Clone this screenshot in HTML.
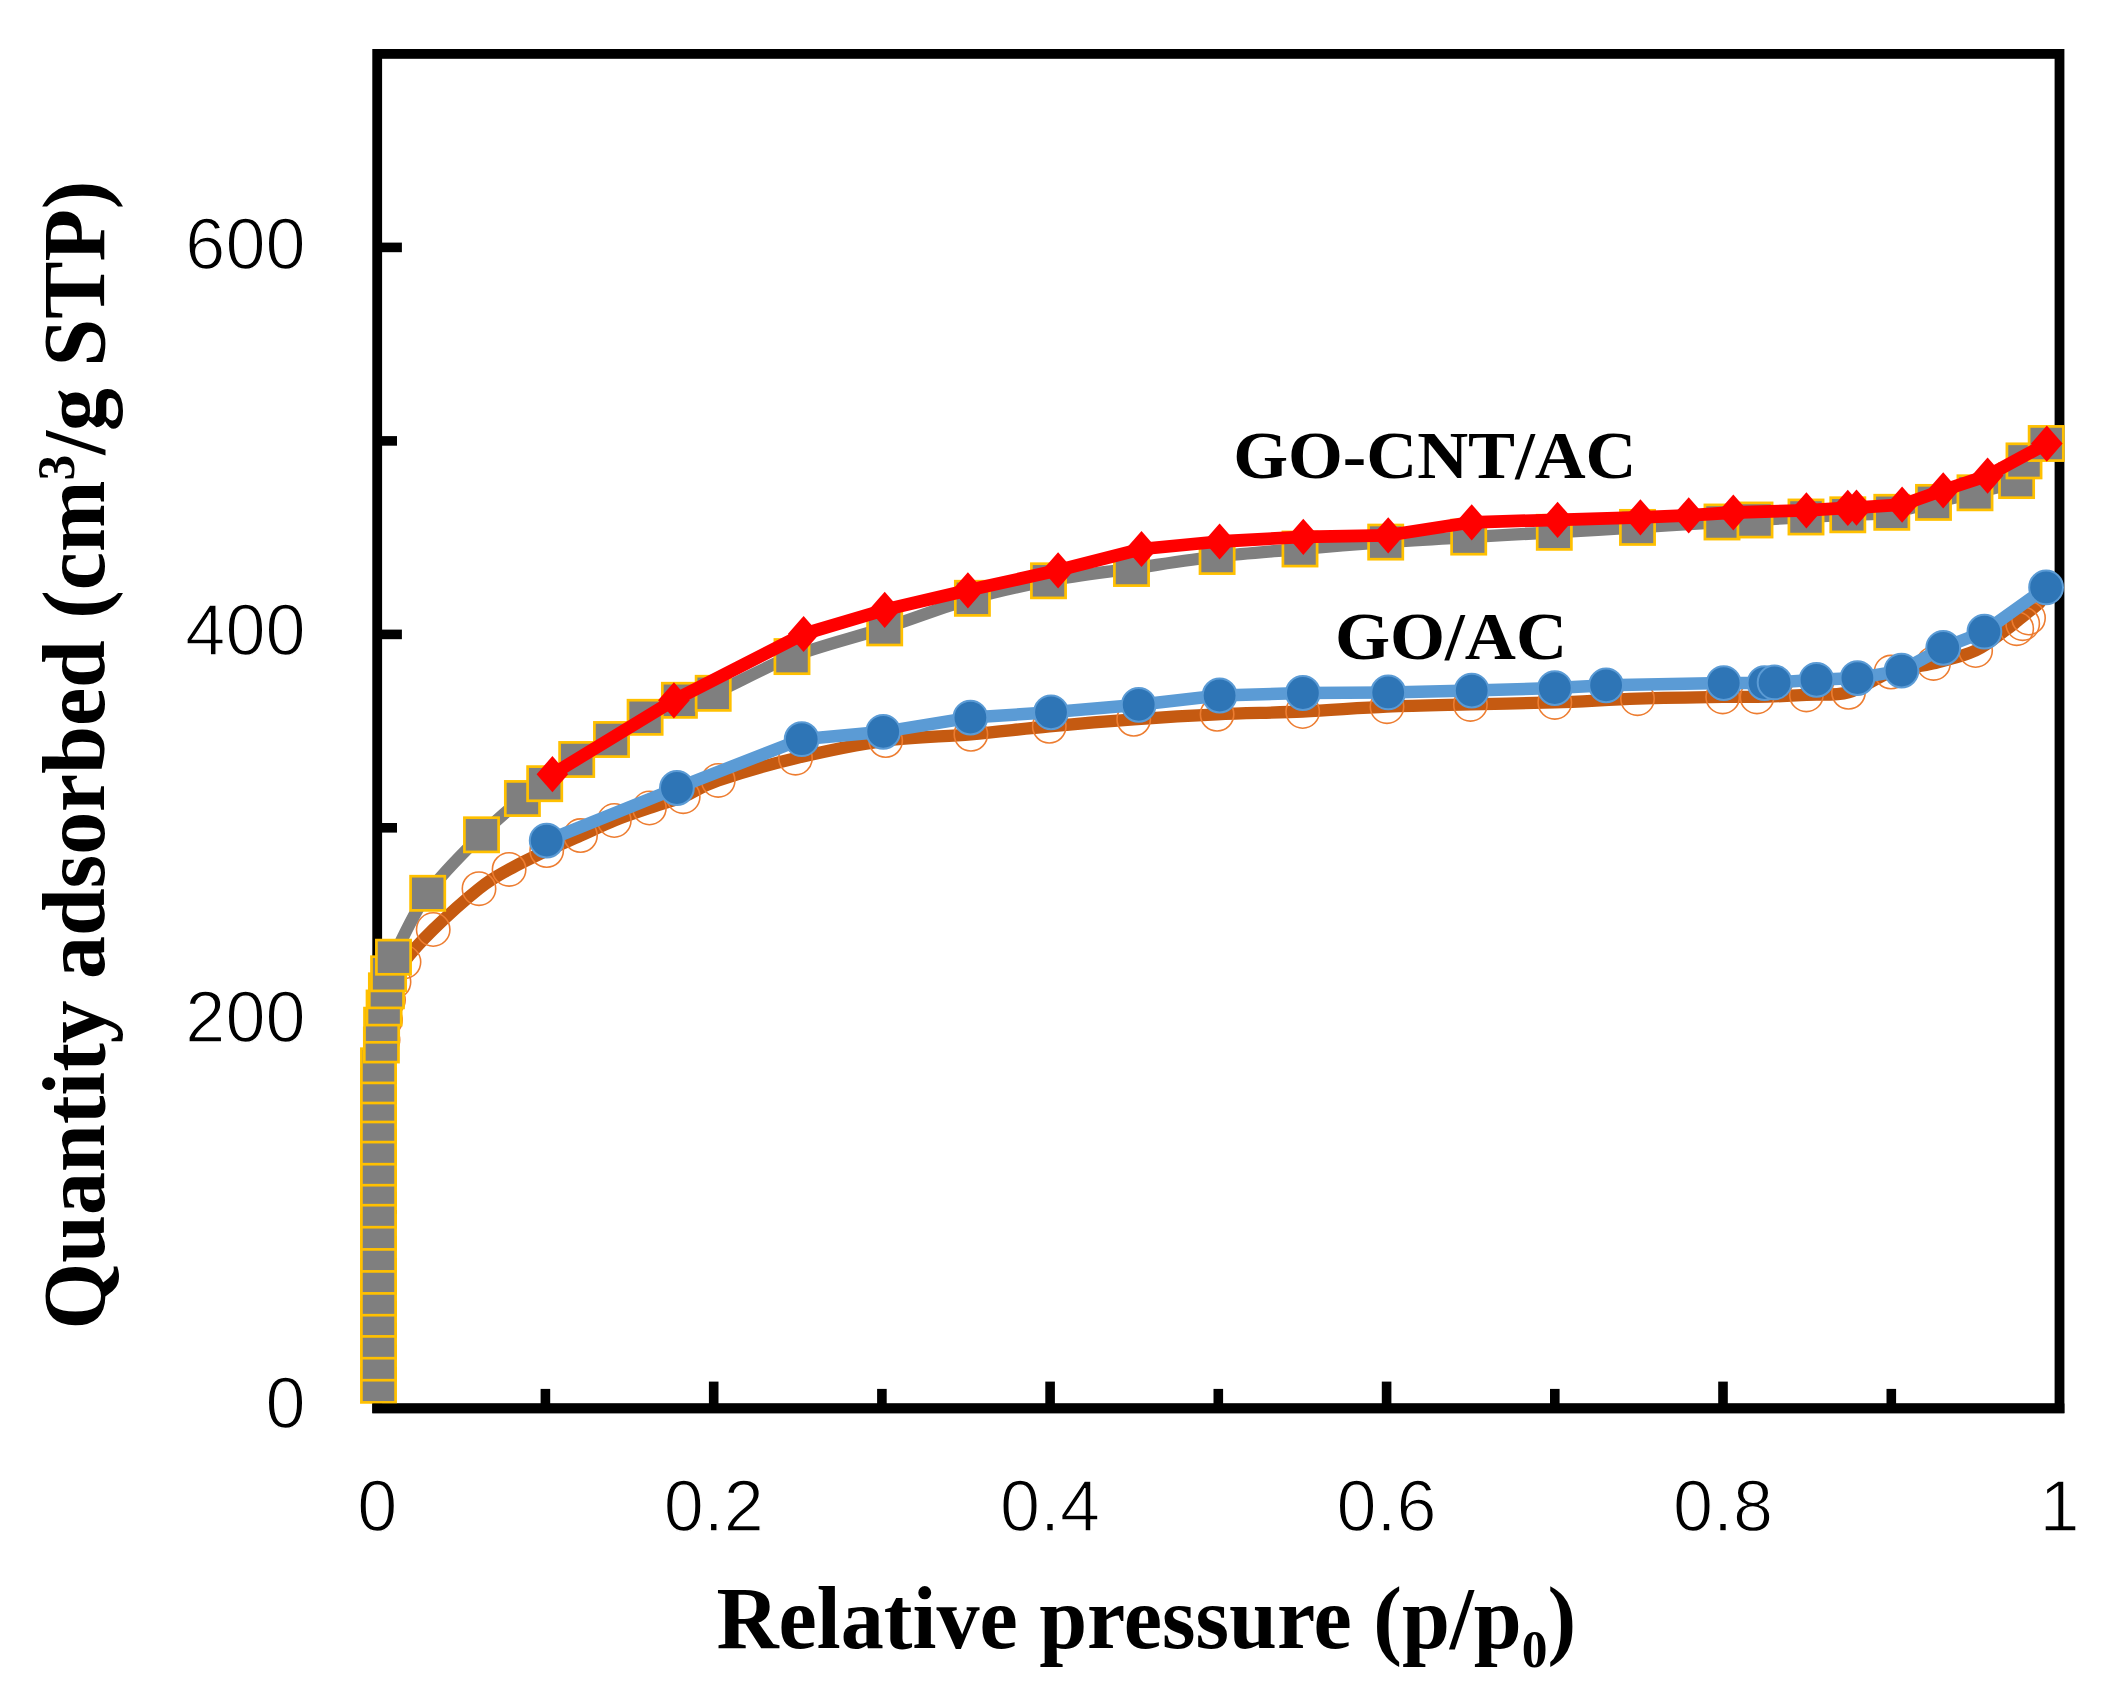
<!DOCTYPE html>
<html lang="en"><head><meta charset="utf-8">
<title>N2 adsorption isotherms</title>
<style>
html,body{margin:0;padding:0;background:#fff;}
body{width:2116px;height:1695px;overflow:hidden;}
svg{display:block;}
.tick{font-family:"Liberation Sans",sans-serif;font-size:72px;fill:#000;stroke:#fff;stroke-width:1.4px;paint-order:fill stroke;}
.ttl{font-family:"Liberation Serif",serif;font-weight:bold;fill:#000;}
</style></head><body>
<svg width="2116" height="1695" viewBox="0 0 2116 1695">
<rect x="0" y="0" width="2116" height="1695" fill="#ffffff"/>
<g id="frame" fill="none" stroke="#000" stroke-width="9.8">
<rect x="377.2" y="53.9" width="1682.3" height="1354.4"/>
</g>
<g id="ticks" stroke="#000" stroke-width="9.6" fill="none">
<line x1="545.4" y1="1408.3" x2="545.4" y2="1388.9"/>
<line x1="713.7" y1="1408.3" x2="713.7" y2="1381.6"/>
<line x1="881.9" y1="1408.3" x2="881.9" y2="1388.9"/>
<line x1="1050.1" y1="1408.3" x2="1050.1" y2="1381.6"/>
<line x1="1218.3" y1="1408.3" x2="1218.3" y2="1388.9"/>
<line x1="1386.6" y1="1408.3" x2="1386.6" y2="1381.6"/>
<line x1="1554.8" y1="1408.3" x2="1554.8" y2="1388.9"/>
<line x1="1723" y1="1408.3" x2="1723" y2="1381.6"/>
<line x1="1891.3" y1="1408.3" x2="1891.3" y2="1388.9"/>
<line x1="377.2" y1="1214.8" x2="397" y2="1214.8"/>
<line x1="377.2" y1="1021.3" x2="401.9" y2="1021.3"/>
<line x1="377.2" y1="827.8" x2="397" y2="827.8"/>
<line x1="377.2" y1="634.4" x2="401.9" y2="634.4"/>
<line x1="377.2" y1="440.9" x2="397" y2="440.9"/>
<line x1="377.2" y1="247.4" x2="401.9" y2="247.4"/>
</g>
<g id="s-orange">
<path d="M378.5 1390 C378.5 1386.3 378.5 1375.3 378.5 1368 C378.5 1360.7 378.5 1353.3 378.5 1346 C378.5 1338.7 378.5 1331.3 378.5 1324 C378.5 1316.7 378.5 1309.3 378.5 1302 C378.5 1294.7 378.5 1287.3 378.5 1280 C378.5 1272.7 378.5 1265.3 378.5 1258 C378.5 1250.7 378.5 1243.3 378.5 1236 C378.5 1228.7 378.5 1221.3 378.5 1214 C378.5 1206.7 378.5 1199.3 378.5 1192 C378.5 1184.7 378.5 1177.3 378.5 1170 C378.5 1162.7 378.5 1155.3 378.5 1148 C378.5 1140.7 378.5 1133.3 378.5 1126 C378.5 1118.7 378.5 1111.3 378.5 1104 C378.5 1096.7 378.1 1089.3 378.5 1082 C378.9 1074.7 380.2 1067 381 1060 C381.8 1053 382.2 1046.7 383 1040 C383.8 1033.3 384.6 1026.7 385.5 1020 C386.4 1013.3 387.1 1006.3 388.5 1000 C389.9 993.7 391.4 988.3 394 982 C396.6 975.7 397.5 970.8 404 962 C410.5 953.2 420.7 941.7 433.2 929.5 C445.7 917.3 466.4 898.7 479 888.7 C491.6 878.7 497.8 875.8 509.1 869.4 C520.4 863 534.8 856.2 546.7 850.6 C558.6 845 569.2 840.6 580.5 835.6 C591.8 830.6 602.8 825.1 614.3 820.5 C625.8 815.9 637.9 812 649.4 808 C660.9 804 671.7 801.3 683.2 796.7 C694.7 792.1 699.5 786.8 718.2 780.4 C736.9 774 767.6 764.8 795.5 758.2 C823.4 751.6 856.5 744.6 885.7 740.6 C914.9 736.6 943.6 736.7 970.9 734.3 C998.2 731.9 1022.2 728.8 1049.3 726.3 C1076.4 723.8 1105.7 721.3 1133.7 719.3 C1161.7 717.3 1188.9 715.6 1217.1 714.3 C1245.3 713 1274.4 712.8 1302.7 711.5 C1331 710.2 1359 707.9 1387 706.7 C1415 705.5 1442.4 705.1 1470.4 704.4 C1498.4 703.7 1527 703.3 1554.8 702.4 C1582.6 701.5 1609.5 699.6 1637.5 698.7 C1665.5 697.8 1702.8 697.2 1722.7 696.9 C1742.6 696.6 1743 697.2 1757 696.9 C1771 696.6 1791.2 695.7 1806.4 694.9 C1821.7 694.1 1834.4 696.1 1848.5 692.3 C1862.6 688.5 1876.8 676.9 1891 672.1 C1905.2 667.3 1919.4 667 1933.5 663.4 C1947.6 659.8 1963.7 656 1975.6 650.5 C1987.5 645 1998.1 635.4 2005 630.5 C2011.9 625.6 2013 624.5 2017 621.3 C2021 618.1 2025.2 614.6 2029 611.5 C2032.8 608.4 2038.2 604 2040 602.5" fill="none" stroke="#C55A11" stroke-width="12.3" stroke-linejoin="round" stroke-linecap="round"/>
<g fill="none" stroke="#ED7D31" stroke-width="1.6">
<circle cx="383" cy="1040" r="16.7"/>
<circle cx="385.5" cy="1020" r="16.7"/>
<circle cx="388.5" cy="1000" r="16.7"/>
<circle cx="394" cy="982" r="16.7"/>
<circle cx="404" cy="962" r="16.7"/>
<circle cx="433.2" cy="929.5" r="16.7"/>
<circle cx="479" cy="888.7" r="16.7"/>
<circle cx="509.1" cy="869.4" r="16.7"/>
<circle cx="546.7" cy="850.6" r="16.7"/>
<circle cx="580.5" cy="835.6" r="16.7"/>
<circle cx="614.3" cy="820.5" r="16.7"/>
<circle cx="649.4" cy="808" r="16.7"/>
<circle cx="683.2" cy="796.7" r="16.7"/>
<circle cx="718.2" cy="780.4" r="16.7"/>
<circle cx="795.5" cy="758.2" r="16.7"/>
<circle cx="885.7" cy="740.6" r="16.7"/>
<circle cx="970.9" cy="734.3" r="16.7"/>
<circle cx="1049.3" cy="726.3" r="16.7"/>
<circle cx="1133.7" cy="719.3" r="16.7"/>
<circle cx="1217.1" cy="714.3" r="16.7"/>
<circle cx="1302.7" cy="711.5" r="16.7"/>
<circle cx="1387" cy="706.7" r="16.7"/>
<circle cx="1470.4" cy="704.4" r="16.7"/>
<circle cx="1554.8" cy="702.4" r="16.7"/>
<circle cx="1637.5" cy="698.7" r="16.7"/>
<circle cx="1722.7" cy="696.9" r="16.7"/>
<circle cx="1757" cy="696.9" r="16.7"/>
<circle cx="1806.4" cy="694.9" r="16.7"/>
<circle cx="1848.5" cy="692.3" r="16.7"/>
<circle cx="1891" cy="672.1" r="16.7"/>
<circle cx="1933.5" cy="663.4" r="16.7"/>
<circle cx="1975.6" cy="650.5" r="16.7"/>
<circle cx="2016.7" cy="628.7" r="16.7"/>
<circle cx="2022.7" cy="623.7" r="16.7"/>
<circle cx="2028.5" cy="618" r="16.7"/>
</g></g>
<g id="s-gray">
<path d="M378.5 1385.2 C378.5 1381.6 378.5 1370.5 378.5 1363.1 C378.5 1355.8 378.5 1348.4 378.5 1341 C378.5 1333.7 378.5 1326.4 378.5 1319.2 C378.5 1312.1 378.5 1305.3 378.5 1298.1 C378.5 1291 378.5 1283.6 378.5 1276.3 C378.5 1269 378.5 1261.7 378.5 1254.3 C378.5 1247 378.5 1239.6 378.5 1232.2 C378.5 1224.9 378.5 1217.5 378.5 1210.1 C378.5 1202.8 378.5 1195.2 378.5 1188.1 C378.5 1181.1 378.5 1174.9 378.5 1168 C378.5 1161.2 378.5 1154.2 378.5 1147 C378.5 1139.9 378.5 1132 378.5 1125 C378.5 1117.9 378.5 1111.4 378.5 1104.8 C378.5 1098.3 378.5 1092.4 378.5 1085.8 C378.5 1079.3 378 1072.6 378.5 1065.8 C379 1058.9 380.9 1051.7 381.4 1045 C381.9 1038.2 381.2 1031.4 381.6 1025.2 C382.1 1019.1 383.3 1013.8 384.1 1008 C384.9 1002.3 385.6 996.5 386.4 990.8 C387.1 985.1 387.4 979.4 388.6 973.8 C389.8 968.2 387 970.7 393.5 957.2 C400 943.8 413 913.7 427.7 893.3 C442.4 872.9 465.7 850.6 481.5 834.8 C497.3 819 511.9 807 522.4 798.5 C532.9 790 535.7 790.2 544.7 783.7 C553.8 777.2 565.6 766.9 576.7 759.5 C587.8 752.1 600.1 746.5 611.5 739.5 C622.9 732.5 633.8 723.8 645.1 717.3 C656.4 710.8 668 704.3 679.4 700.3 C690.8 696.3 694.4 700.6 713.2 693.3 C732 686 763.4 667.5 792 656.6 C820.6 645.7 854.6 637.6 884.7 627.9 C914.8 618.2 945.1 606.1 972.4 598.3 C999.7 590.4 1022 585.8 1048.5 580.8 C1075 575.8 1103.4 572.5 1131.5 568.5 C1159.6 564.5 1189 559.8 1217.1 556.5 C1245.2 553.2 1271.9 551.4 1300 549 C1328.1 546.6 1357.6 544.1 1385.7 542.1 C1413.8 540.1 1440.6 538.7 1468.7 537.1 C1496.8 535.5 1526.2 533.9 1554.3 532.3 C1582.4 530.7 1609.5 529.1 1637.5 527.4 C1665.5 525.7 1702.4 523.2 1722 522 C1741.6 520.8 1741 520.8 1755 520 C1769 519.2 1790.5 517.9 1806 517 C1821.5 516.1 1833.5 515.6 1847.8 514.8 C1862.1 514 1877.5 514.4 1891.8 512.3 C1906.1 510.2 1919.6 505.6 1933.5 502.4 C1947.4 499.1 1961.2 496.4 1975 492.8 C1988.8 489.2 2008.4 485.9 2016.6 480.6 C2024.8 475.3 2019.1 467.1 2024 460.9 C2028.9 454.7 2042.5 446.4 2046.2 443.5" fill="none" stroke="#7F7F7F" stroke-width="12.3" stroke-linejoin="round" stroke-linecap="round"/>
<g fill="#7F7F7F" stroke="#FFC000" stroke-width="2.7">
<rect x="361.4" y="1368.2" width="34.2" height="34.2"/>
<rect x="361.4" y="1346" width="34.2" height="34.2"/>
<rect x="361.4" y="1324" width="34.2" height="34.2"/>
<rect x="361.4" y="1302.2" width="34.2" height="34.2"/>
<rect x="361.4" y="1281" width="34.2" height="34.2"/>
<rect x="361.4" y="1259.2" width="34.2" height="34.2"/>
<rect x="361.4" y="1237.2" width="34.2" height="34.2"/>
<rect x="361.4" y="1215.2" width="34.2" height="34.2"/>
<rect x="361.4" y="1193" width="34.2" height="34.2"/>
<rect x="361.4" y="1171" width="34.2" height="34.2"/>
<rect x="361.4" y="1151" width="34.2" height="34.2"/>
<rect x="361.4" y="1130" width="34.2" height="34.2"/>
<rect x="361.4" y="1107.9" width="34.2" height="34.2"/>
<rect x="361.4" y="1087.8" width="34.2" height="34.2"/>
<rect x="361.4" y="1068.8" width="34.2" height="34.2"/>
<rect x="361.4" y="1048.7" width="34.2" height="34.2"/>
<rect x="364.3" y="1027.9" width="34.2" height="34.2"/>
<rect x="364.5" y="1008.1" width="34.2" height="34.2"/>
<rect x="367" y="990.9" width="34.2" height="34.2"/>
<rect x="369.3" y="973.7" width="34.2" height="34.2"/>
<rect x="371.5" y="956.7" width="34.2" height="34.2"/>
<rect x="376.4" y="940.1" width="34.2" height="34.2"/>
<rect x="410.6" y="876.2" width="34.2" height="34.2"/>
<rect x="464.4" y="817.7" width="34.2" height="34.2"/>
<rect x="505.3" y="781.4" width="34.2" height="34.2"/>
<rect x="527.6" y="766.6" width="34.2" height="34.2"/>
<rect x="559.6" y="742.4" width="34.2" height="34.2"/>
<rect x="594.4" y="722.4" width="34.2" height="34.2"/>
<rect x="628" y="700.2" width="34.2" height="34.2"/>
<rect x="662.3" y="683.2" width="34.2" height="34.2"/>
<rect x="696.1" y="676.2" width="34.2" height="34.2"/>
<rect x="774.9" y="639.5" width="34.2" height="34.2"/>
<rect x="867.6" y="610.8" width="34.2" height="34.2"/>
<rect x="955.3" y="581.2" width="34.2" height="34.2"/>
<rect x="1031.4" y="563.7" width="34.2" height="34.2"/>
<rect x="1114.4" y="551.4" width="34.2" height="34.2"/>
<rect x="1200" y="539.4" width="34.2" height="34.2"/>
<rect x="1282.9" y="531.9" width="34.2" height="34.2"/>
<rect x="1368.6" y="525" width="34.2" height="34.2"/>
<rect x="1451.6" y="520" width="34.2" height="34.2"/>
<rect x="1537.2" y="515.2" width="34.2" height="34.2"/>
<rect x="1620.4" y="510.3" width="34.2" height="34.2"/>
<rect x="1704.9" y="504.9" width="34.2" height="34.2"/>
<rect x="1737.9" y="502.9" width="34.2" height="34.2"/>
<rect x="1788.9" y="499.9" width="34.2" height="34.2"/>
<rect x="1830.7" y="497.7" width="34.2" height="34.2"/>
<rect x="1874.7" y="495.2" width="34.2" height="34.2"/>
<rect x="1916.4" y="485.3" width="34.2" height="34.2"/>
<rect x="1957.9" y="475.7" width="34.2" height="34.2"/>
<rect x="1999.5" y="463.5" width="34.2" height="34.2"/>
<rect x="2006.9" y="443.8" width="34.2" height="34.2"/>
<rect x="2029.1" y="426.4" width="34.2" height="34.2"/>
</g></g>
<line x1="372.3" y1="1408.3" x2="2064.4" y2="1408.3" stroke="#000" stroke-width="9.8"/>
<g id="s-blue">
<path d="M546.7 840.6 L676.9 788 L801.7 739.2 L883.2 731.8 L970.4 717.6 L1051 712.3 L1138.7 704.8 L1219.6 695.5 L1302.9 693 L1388.2 692.4 L1471.7 690.6 L1554.8 688.1 L1606.1 685.3 L1723.7 683.1 L1764.5 683.1 L1774.6 682.4 L1816.5 679.8 L1857.4 678.1 L1901.5 670.6 L1943.2 647.8 L1984.4 631.7 L2046.1 587.4" fill="none" stroke="#5B9BD5" stroke-width="12.5" stroke-linejoin="round" stroke-linecap="round"/>
<g fill="#2E75B6" stroke="#5B9BD5" stroke-width="2">
<circle cx="546.7" cy="840.6" r="16.9"/>
<circle cx="676.9" cy="788" r="16.9"/>
<circle cx="801.7" cy="739.2" r="16.9"/>
<circle cx="883.2" cy="731.8" r="16.9"/>
<circle cx="970.4" cy="717.6" r="16.9"/>
<circle cx="1051" cy="712.3" r="16.9"/>
<circle cx="1138.7" cy="704.8" r="16.9"/>
<circle cx="1219.6" cy="695.5" r="16.9"/>
<circle cx="1302.9" cy="693" r="16.9"/>
<circle cx="1388.2" cy="692.4" r="16.9"/>
<circle cx="1471.7" cy="690.6" r="16.9"/>
<circle cx="1554.8" cy="688.1" r="16.9"/>
<circle cx="1606.1" cy="685.3" r="16.9"/>
<circle cx="1723.7" cy="683.1" r="16.9"/>
<circle cx="1764.5" cy="683.1" r="16.9"/>
<circle cx="1774.6" cy="682.4" r="16.9"/>
<circle cx="1816.5" cy="679.8" r="16.9"/>
<circle cx="1857.4" cy="678.1" r="16.9"/>
<circle cx="1901.5" cy="670.6" r="16.9"/>
<circle cx="1943.2" cy="647.8" r="16.9"/>
<circle cx="1984.4" cy="631.7" r="16.9"/>
<circle cx="2046.1" cy="587.4" r="16.9"/>
</g></g>
<g id="s-red">
<path d="M552.4 774.2 L673.9 700.3 L803.6 634 L884.7 609.8 L967.9 590.3 L1058.1 570.3 L1141.5 549 L1219.6 541.5 L1303.3 536.8 L1388.2 535.3 L1471.7 522.3 L1557.6 519.8 L1640.4 517.3 L1688.7 515.3 L1733.3 512.5 L1806.4 510.3 L1847.8 507.8 L1856.5 507.6 L1902.1 504.7 L1943.2 490.3 L1987.6 475.6 L2046.8 443.6" fill="none" stroke="#FF0000" stroke-width="12.8" stroke-linejoin="round" stroke-linecap="round"/>
<g fill="#FF0000">
<path d="M552.4 756.1 L568.2 774.2 L552.4 792.3 L536.6 774.2Z"/>
<path d="M673.9 682.2 L689.7 700.3 L673.9 718.4 L658.1 700.3Z"/>
<path d="M803.6 615.9 L819.4 634 L803.6 652.1 L787.8 634Z"/>
<path d="M884.7 591.7 L900.5 609.8 L884.7 627.9 L868.9 609.8Z"/>
<path d="M967.9 572.2 L983.7 590.3 L967.9 608.4 L952.1 590.3Z"/>
<path d="M1058.1 552.2 L1073.9 570.3 L1058.1 588.4 L1042.3 570.3Z"/>
<path d="M1141.5 530.9 L1157.3 549 L1141.5 567.1 L1125.7 549Z"/>
<path d="M1219.6 523.4 L1235.4 541.5 L1219.6 559.6 L1203.8 541.5Z"/>
<path d="M1303.3 518.7 L1319.1 536.8 L1303.3 554.9 L1287.5 536.8Z"/>
<path d="M1388.2 517.2 L1404 535.3 L1388.2 553.4 L1372.4 535.3Z"/>
<path d="M1471.7 504.2 L1487.5 522.3 L1471.7 540.4 L1455.9 522.3Z"/>
<path d="M1557.6 501.7 L1573.4 519.8 L1557.6 537.9 L1541.8 519.8Z"/>
<path d="M1640.4 499.2 L1656.2 517.3 L1640.4 535.4 L1624.6 517.3Z"/>
<path d="M1688.7 497.2 L1704.5 515.3 L1688.7 533.4 L1672.9 515.3Z"/>
<path d="M1733.3 494.4 L1749.1 512.5 L1733.3 530.6 L1717.5 512.5Z"/>
<path d="M1806.4 492.2 L1822.2 510.3 L1806.4 528.4 L1790.6 510.3Z"/>
<path d="M1847.8 489.7 L1863.6 507.8 L1847.8 525.9 L1832 507.8Z"/>
<path d="M1856.5 489.5 L1872.3 507.6 L1856.5 525.7 L1840.7 507.6Z"/>
<path d="M1902.1 486.6 L1917.9 504.7 L1902.1 522.8 L1886.3 504.7Z"/>
<path d="M1943.2 472.2 L1959 490.3 L1943.2 508.4 L1927.4 490.3Z"/>
<path d="M1987.6 457.5 L2003.4 475.6 L1987.6 493.7 L1971.8 475.6Z"/>
<path d="M2046.8 425.5 L2062.6 443.6 L2046.8 461.7 L2031 443.6Z"/>
</g></g>
<g id="ylabels" class="tick" text-anchor="end">
<text x="305.5" y="1427.9">0</text>
<text x="305.5" y="1041.7">200</text>
<text x="305.5" y="655.1">400</text>
<text x="305.5" y="268.5">600</text>
</g>
<g id="xlabels" class="tick" text-anchor="middle">
<text x="377.2" y="1531">0</text>
<text x="713.7" y="1531">0.2</text>
<text x="1050.1" y="1531">0.4</text>
<text x="1386.6" y="1531">0.6</text>
<text x="1723" y="1531">0.8</text>
<text x="2059.5" y="1531">1</text>
</g>
<text class="ttl" font-size="66.7" transform="translate(1233.2 478.2) scale(1.057 1)">GO-CNT/AC</text>
<text class="ttl" font-size="66.7" transform="translate(1334.9 659.2) scale(1.062 1)">GO/AC</text>
<text class="ttl" font-size="88.7" transform="translate(716.4 1647.8) scale(0.971 1)">Relative pressure (p/p<tspan font-size="53" dy="19.5">0</tspan><tspan dy="-19.5">)</tspan></text>
<text class="ttl" font-size="88.7" transform="translate(103.9 1329.5) rotate(-90) scale(0.968 1)">Quantity adsorbed (cm<tspan font-size="53" dy="-30">3</tspan><tspan dy="30">/g STP)</tspan></text>
</svg>
</body></html>
